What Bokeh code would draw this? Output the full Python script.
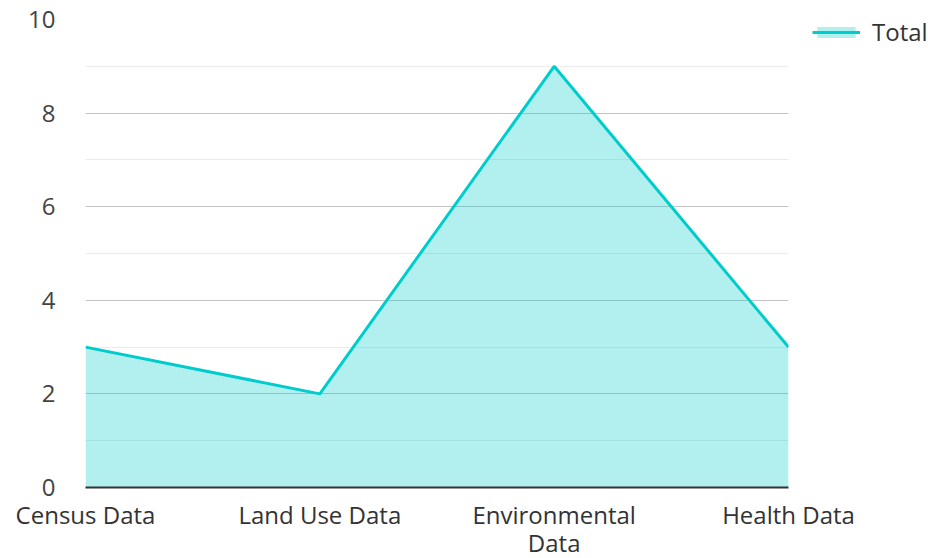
from bokeh.plotting import figure
from bokeh.models import Range1d, FixedTicker, Legend, LegendItem
from bokeh.embed import file_html
from bokeh.resources import INLINE

categories = ["Census Data", "Land Use Data", "Environmental\nData", "Health Data"]
totals = [3, 2, 9, 3]
y_ticks = [0, 2, 4, 6, 8, 10]
y_minor = [1, 3, 5, 7, 9]

xs = list(range(len(categories)))
FONT = "Open Sans"
LINE = "#00cccc"

p = figure(frame_width=703, frame_height=468, output_backend="svg", toolbar_location=None,
           x_range=Range1d(0, 3), y_range=Range1d(0, 10),
           min_border_left=85, min_border_right=140, min_border_top=19, min_border_bottom=0)
p.outline_line_color = None
p.background_fill_color = "white"

area = p.varea(x=xs, y1=[0] * len(xs), y2=totals, fill_color=LINE, fill_alpha=0.3)
ln = p.line(x=xs, y=totals, line_color=LINE, line_width=3)

p.xaxis.ticker = FixedTicker(ticks=xs)
p.xaxis.major_label_overrides = {i: c for i, c in zip(xs, categories)}
p.xaxis.axis_line_color = "#333333"
p.xaxis.axis_line_width = 2
p.xaxis.major_tick_line_color = None
p.xaxis.minor_tick_line_color = None
p.xaxis.major_label_text_font = FONT
p.xaxis.major_label_text_font_size = "24px"
p.xaxis.major_label_text_color = "#333333"
p.xaxis.major_label_text_line_height = 0.85
p.xaxis.major_label_standoff = 4

p.yaxis.ticker = FixedTicker(ticks=y_ticks, minor_ticks=y_minor)
p.yaxis.axis_line_color = None
p.yaxis.major_tick_line_color = None
p.yaxis.minor_tick_line_color = None
p.yaxis.major_label_text_font = FONT
p.yaxis.major_label_text_font_size = "24px"
p.yaxis.major_label_text_color = "#444444"
p.yaxis.major_label_standoff = 24

p.xgrid.grid_line_color = None
p.ygrid.grid_line_color = "#c4c4c4"
p.ygrid.grid_line_width = 1
p.ygrid.minor_grid_line_color = "#ebebeb"

legend = Legend(items=[LegendItem(label="Total", renderers=[area, ln])],
                location=(24, 439), padding=0, margin=0, spacing=0,
                glyph_width=48, glyph_height=14, label_standoff=12,
                label_text_font=FONT, label_text_font_size="24px", label_text_color="#333333",
                border_line_color=None, background_fill_alpha=0)
p.add_layout(legend, "right")

open("out.html", "w").write(file_html(p, INLINE))
